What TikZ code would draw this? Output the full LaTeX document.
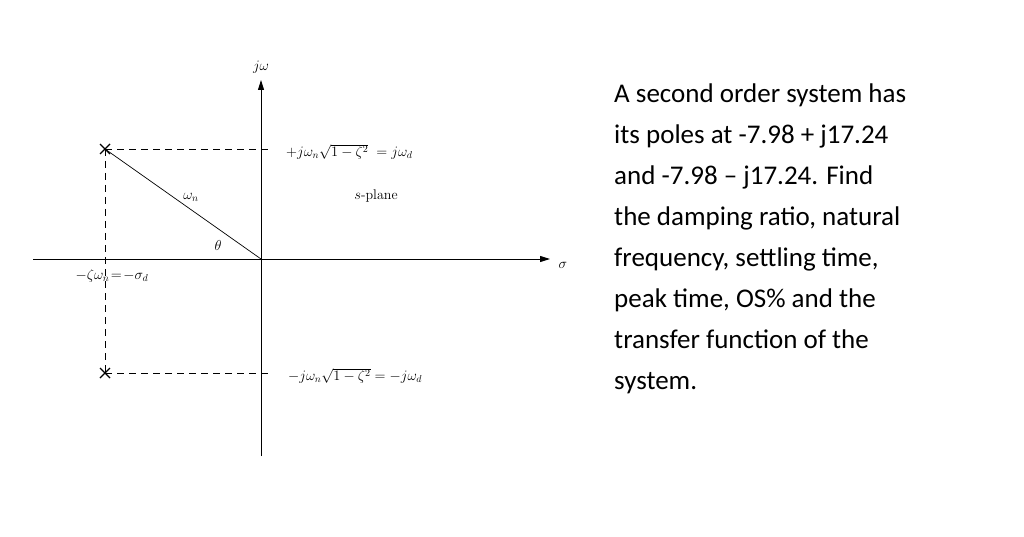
\documentclass[tikz,border=0pt]{standalone}
\usepackage{fontspec}
\newfontfamily\calfont{Carlito}
\usetikzlibrary{arrows.meta,calc}
\begin{document}
\begin{tikzpicture}[x=1pt,y=-1pt,
  axis/.style={line width=0.9pt,-{Triangle[length=10pt,width=6pt]}},
  dsh/.style={dashed,dash pattern=on 7pt off 5pt,line width=0.8pt},
  lbl/.style={font=\fontsize{14}{16}\selectfont,inner sep=0pt}]
\useasboundingbox (0,0) rectangle (1024,537);
\coordinate (O) at (261,259);
\coordinate (P) at (105,149);
\coordinate (Q) at (105,373);
\coordinate (L) at (33,259);
\coordinate (R) at (550,259);
\coordinate (B) at (261,456);
\coordinate (T) at (261,80);
\coordinate (PE) at (272,149);
\coordinate (QE) at (272,373);
\draw[axis] (L) -- (R);
\draw[axis] (B) -- (T);
\draw[dsh] (P) -- (PE);
\draw[dsh] (Q) -- (QE);
\draw[dsh] (P) -- (Q);
\draw[line width=0.7pt] (P) -- (O);
\foreach \p in {P,Q} \draw[line width=1.2pt] ($(\p)+(-5,-5)$) -- ($(\p)+(5,5)$) ($(\p)+(-5,5)$) -- ($(\p)+(5,-5)$);
\node[lbl] (jw) at (261,67) {$j\omega$};
\node[lbl] (sg) at (563,265) {$\sigma$};
\node[lbl,anchor=west] (up) at (286,152) {$+j\omega_n\sqrt{1-\zeta^2}\;=j\omega_d$};
\node[lbl,anchor=west] (dn) at (288,376) {$-j\omega_n\sqrt{1-\zeta^2}=-j\omega_d$};
\node[lbl] (sp) at (376,196) {$s$-plane};
\node[lbl] (wn) at (191,197) {$\omega_n$};
\node[lbl] (th) at (218,245) {$\theta$};
\node[lbl] (sd) at (112,276) {$-\zeta\omega_n\!=\!-\sigma_d$};
\node[anchor=north west,inner sep=0pt,align=left,font=\calfont\fontsize{27}{41}\selectfont] (txt) at (614,84)
{A second order system has\\its poles at -7.98 + j17.24\\and -7.98 – j17.24. Find\\the damping ratio, natural\\frequency, settling time,\\peak time, OS\% and the\\transfer function of the\\system.};
\end{tikzpicture}
\end{document}
